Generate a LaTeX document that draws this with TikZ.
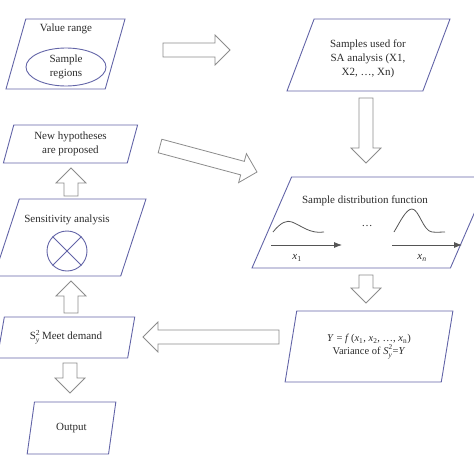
\documentclass[tikz,border=0pt]{standalone}
\usepackage{amsmath}
\usepackage{fontspec}
\setmainfont{Liberation Serif}
\usepackage{tikz}
\usetikzlibrary{arrows.meta, calc, shapes.geometric}
\definecolor{boxblue}{HTML}{6264A7}
\definecolor{arrowgray}{HTML}{8C8C8C}
\definecolor{inkgray}{HTML}{2B2B2B}

% hollow block arrow from #1 to #2
\newcommand{\blockarrow}[2]{%
  \coordinate (tmp) at ($(#2)!15pt!(#1)$);
  \draw[hollow] ($(#1)!7pt!90:(#2)$) -- ($(tmp)!7pt!90:(#2)$) -- ($(tmp)!15pt!90:(#2)$) -- (#2)
    -- ($(tmp)!15pt!-90:(#2)$) -- ($(tmp)!7pt!-90:(#2)$) -- ($(#1)!7pt!-90:(#2)$) -- cycle;}
% italic text letters in place of math letters
\newcommand{\vi}[1]{\textit{#1}}
\newcommand{\Ssq}{$\text{\itshape S}_{\text{\itshape y}}^{\text{2}}$}
\newcommand{\Sup}{$\text{S}_{\text{\itshape y}}^{\text{2}}$}

\begin{document}
\begin{tikzpicture}[
        x=1pt, y=-1pt,
        >=Latex,
        para/.style={trapezium, trapezium left angle=76, trapezium right angle=104, trapezium stretches=true, draw=boxblue, line width=0.9pt, text=inkgray, font=\fontsize{11}{14}\selectfont, align=center, inner sep=2pt},
        regions/.style={ellipse, draw=boxblue, line width=0.9pt, text=inkgray, font=\fontsize{11}{14}\selectfont, align=center, minimum width=80pt, minimum height=38pt, inner sep=0pt},
        lbl/.style={text=inkgray, font=\fontsize{11}{14}\selectfont, align=center, inner sep=0pt},
        hollow/.style={draw=arrowgray, fill=white, line width=0.8pt, line join=miter},
        axis/.style={->, draw=inkgray!80, line width=0.8pt, >={Latex[length=8pt, width=6pt]}}
    ]
        \useasboundingbox (0,0) rectangle (474,474);

        \node[para, minimum width=119pt, minimum height=70pt] (range) at (65.5,54) {};
        \node[lbl] (rangelbl) at (66,29) {Value range};
        \node[regions] (regions) at (66,67) {Sample\\regions};

        \node[para, minimum width=163pt, minimum height=72pt] (samples) at (368.5,55) {};
        \node[lbl] (samplbl) at (368,59) {Samples used for\\SA analysis (X1,\\X2, \ldots, Xn)};

        \node[para, minimum width=238pt, minimum height=91pt] (distfun) at (371,222.5) {};
        \node[lbl] (distlbl) at (365,201) {Sample distribution function};
        \draw[inkgray!80, line width=0.8pt] (273,232) .. controls (281,222) and (287,220) .. (292,222) .. controls (302,226) and (310,234) .. (324,232);
        \draw[inkgray!80, line width=0.8pt] (394,232) .. controls (400,222) and (406,209) .. (412,209) .. controls (419,209) and (423,231) .. (432,232) .. controls (437,232.5) and (441,232) .. (445,232);
        \draw[axis] (271,245) -- (342,245);
        \draw[axis] (392,245) -- (462,245);
        \node[lbl] (xone) at (297,258) {\vi{x}\textsubscript{1}};
        \node[lbl] (xn) at (422,258) {\vi{x}\textsubscript{\vi{n}}};
        \node[lbl] (dots) at (367,226) {\ldots};

        \node[para, minimum width=168pt, minimum height=71pt, font=\fontsize{10.5}{12.5}\selectfont] (model) at (369,346.5) {\vi{Y} = \vi{f}\,(\vi{x}\textsubscript{1}, \vi{x}\textsubscript{2}, \ldots, \vi{x}\textsubscript{n})\\Variance of \Ssq=\vi{Y}};

        \node[para, minimum width=138pt, minimum height=41pt] (demand) at (66,337.5) {\Sup\,Meet demand};

        \node[para, minimum width=152pt, minimum height=77pt] (sensitivity) at (70,237.5) {};
        \node[lbl] (senslbl) at (67,220) {Sensitivity analysis};
        \node[circle, draw=boxblue, line width=0.9pt, minimum size=40pt, inner sep=0pt] (cross) at (67,251) {};
        \draw[boxblue, line width=0.9pt] (cross.north west) -- (cross.south east);
        \draw[boxblue, line width=0.9pt] (cross.north east) -- (cross.south west);

        \node[para, minimum width=135pt, minimum height=38pt] (hypo) at (70.5,144) {New hypotheses\\are proposed};

        \node[para, minimum width=89pt, minimum height=52pt] (output) at (71.5,428) {Output};

        \coordinate (a1s) at (163,50);  \coordinate (a1e) at (230,50);
        \coordinate (a2s) at (366,98);  \coordinate (a2e) at (366,163);
        \coordinate (a3s) at (160,146); \coordinate (a3e) at (257,172);
        \coordinate (a4s) at (366,275); \coordinate (a4e) at (366,303);
        \coordinate (a5s) at (279,337); \coordinate (a5e) at (143,337);
        \coordinate (a6s) at (71,313);  \coordinate (a6e) at (71,281);
        \coordinate (a7s) at (71,196);  \coordinate (a7e) at (71,168);
        \coordinate (a8s) at (70,363);  \coordinate (a8e) at (70,393);

        \blockarrow{a1s}{a1e}
        \blockarrow{a2s}{a2e}
        \blockarrow{a3s}{a3e}
        \blockarrow{a4s}{a4e}
        \blockarrow{a5s}{a5e}
        \blockarrow{a6s}{a6e}
        \blockarrow{a7s}{a7e}
        \blockarrow{a8s}{a8e}
    \end{tikzpicture}
\end{document}
